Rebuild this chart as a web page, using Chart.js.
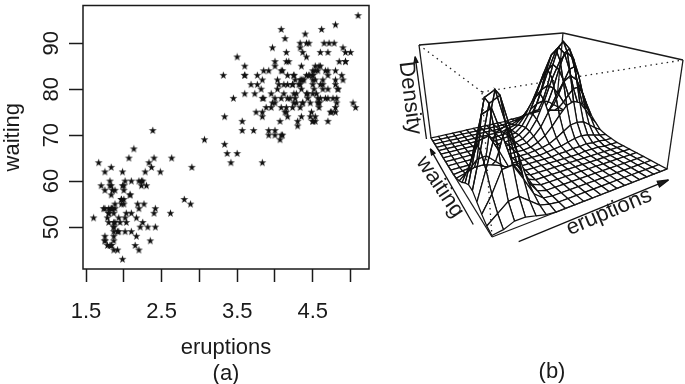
<!DOCTYPE html>
<html><head><meta charset="utf-8">
<style>html,body{margin:0;padding:0;background:#fff;width:685px;height:384px;overflow:hidden}
#wrapA{position:absolute;left:0;top:0;width:380px;height:384px}
#wrapB{position:absolute;left:380px;top:0;width:305px;height:384px}</style>
<script src="https://cdn.jsdelivr.net/npm/chart.js@4/dist/chart.umd.min.js"></script>
</head><body>
<div id="wrapA"><canvas id="a" width="380" height="384"></canvas></div>
<div id="wrapB"><canvas id="b" width="305" height="384"></canvas></div>
<script>
const eruptions=[3.6,1.8,3.333,2.283,4.533,2.883,4.7,3.6,1.95,4.35,1.833,3.917,4.2,1.75,4.7,2.167,1.75,4.8,1.6,4.25,1.8,1.75,3.45,3.067,4.533,3.6,1.967,4.083,3.85,4.433,4.3,4.467,3.367,4.033,3.833,2.017,1.867,4.833,1.833,4.783,4.35,1.883,4.567,1.75,4.533,3.317,3.833,2.1,4.633,2,4.8,4.716,1.833,4.833,1.733,4.883,3.717,1.667,4.567,4.317,2.233,4.5,1.75,4.8,1.817,4.4,4.167,4.7,2.067,4.7,4.033,1.967,4.5,4,1.983,5.067,2.017,4.567,3.883,3.6,4.133,4.333,4.1,2.633,4.067,4.933,3.95,4.517,2.167,4,2.2,4.333,1.867,4.817,1.833,4.3,4.667,3.75,1.867,4.9,2.483,4.367,2.1,4.5,4.05,1.867,4.7,1.783,4.85,3.683,4.733,2.3,4.9,4.417,1.7,4.633,2.317,4.6,1.817,4.417,2.617,4.067,4.25,1.967,4.6,3.767,1.917,4.5,2.267,4.65,1.867,4.167,2.8,4.333,1.833,4.383,1.883,4.933,2.033,3.733,4.233,2.233,4.533,4.817,4.333,1.983,4.633,2.017,5.1,1.8,5.033,4,2.4,4.6,3.567,4,4.5,4.083,1.8,3.967,2.2,4.15,2,3.833,3.5,4.583,2.367,5,1.933,4.617,1.917,2.083,4.583,3.333,4.167,4.333,4.5,2.417,4,4.167,1.883,4.583,4.25,3.767,2.033,4.433,4.083,1.833,4.417,2.183,4.8,1.833,4.8,4.1,3.966,4.233,3.5,4.366,2.25,4.667,2.1,4.35,4.133,1.867,4.6,1.783,4.367,3.85,1.933,4.5,2.383,4.7,1.867,3.833,3.417,4.233,2.4,4.8,2,4.15,1.867,4.267,1.75,4.483,4,4.117,4.083,4.267,3.917,4.55,4.083,2.417,4.183,2.217,4.45,1.883,1.85,4.283,3.95,2.333,4.15,2.35,4.933,2.9,4.583,3.833,2.083,4.367,2.133,4.35,2.2,4.45,3.567,4.5,4.15,3.817,3.917,4.45,2,4.283,4.767,4.533,1.85,4.25,1.983,2.25,4.75,4.117,2.15,4.417,1.817,4.467];
const waiting=[79,54,74,62,85,55,88,85,51,85,54,84,78,47,83,52,62,84,52,79,51,47,78,69,74,83,55,76,78,79,73,77,66,80,74,52,48,80,59,90,80,58,84,58,73,83,64,53,82,59,75,90,54,80,54,83,71,64,77,81,59,84,48,82,60,92,78,78,65,73,82,56,79,71,62,76,60,78,76,83,75,82,70,65,73,88,76,80,48,86,60,90,50,78,63,72,84,75,51,82,62,88,49,83,81,47,84,52,86,81,75,59,89,79,59,81,50,85,59,87,53,69,77,56,88,81,45,82,55,90,45,83,56,89,46,82,51,86,53,79,81,60,82,77,76,59,80,49,96,53,77,77,65,81,71,70,81,93,53,89,45,86,58,78,66,76,63,88,52,93,49,57,77,68,81,81,73,50,85,74,55,77,83,83,51,78,84,46,83,55,81,57,76,84,77,81,87,77,51,78,60,82,91,53,78,46,77,84,49,83,71,80,49,75,64,76,53,94,55,76,50,82,54,75,78,79,78,78,70,79,70,54,86,50,90,54,54,77,79,64,75,47,86,63,85,82,57,82,67,74,54,83,73,73,88,80,71,83,56,79,78,84,58,83,43,60,75,81,46,90,46,74];
const xTickLabels=['1.5','2.5','3.5','4.5'];
const yTickLabels=['50','60','70','80','90'];
// density surface, percent of the tallest peak; rows = waiting, columns = eruptions
const densityRows=[
[1,2,5,5,3,1,0,0,0,0,0,0,0,0,0,0,0,0,0,0,0],
[2,8,14,15,9,3,1,0,0,0,0,0,0,0,0,0,0,0,0,0,0],
[5,17,33,34,21,7,1,0,0,0,0,0,0,0,0,0,0,0,0,0,0],
[9,31,57,61,37,12,2,0,0,0,0,0,0,0,0,0,0,0,0,0,0],
[13,42,77,82,49,17,3,0,0,0,0,0,0,0,0,0,0,0,0,0,0],
[13,43,79,84,51,17,3,0,0,0,0,0,0,0,0,0,0,0,0,0,0],
[10,33,62,66,40,14,3,0,0,0,0,0,0,0,0,0,0,0,0,0,0],
[6,20,37,39,24,8,2,0,0,0,0,0,0,0,0,1,1,1,0,0,0],
[3,9,17,18,11,4,1,0,0,0,0,0,1,1,2,2,3,2,2,1,1],
[1,3,6,6,4,1,0,0,0,0,0,1,2,3,5,7,8,7,5,3,2],
[0,1,2,2,1,0,0,0,0,0,1,2,4,8,13,18,19,18,13,8,4],
[0,0,0,0,0,0,0,0,0,0,1,4,9,17,27,36,39,36,27,17,9],
[0,0,0,0,0,0,0,0,0,1,2,7,15,29,45,59,65,59,45,29,15],
[0,0,0,0,0,0,0,0,0,1,3,9,20,39,62,81,89,81,62,39,20],
[0,0,0,0,0,0,0,0,0,1,4,10,23,44,69,91,100,91,69,44,23],
[0,0,0,0,0,0,0,0,0,1,3,9,21,40,64,84,92,84,64,40,21],
[0,0,0,0,0,0,0,0,0,1,3,7,16,30,48,63,70,63,48,30,16],
[0,0,0,0,0,0,0,0,0,0,2,4,10,19,30,39,43,39,30,19,10],
[0,0,0,0,0,0,0,0,0,0,1,2,5,10,15,20,22,20,15,10,5],
[0,0,0,0,0,0,0,0,0,0,0,1,2,4,6,8,9,8,6,4,2],
[0,0,0,0,0,0,0,0,0,0,0,0,1,1,2,3,3,3,2,1,1]];

const FONT='"Liberation Sans", Arial, sans-serif', INK='#1a1a1a';

// left panel
const star=document.createElement('canvas');star.width=star.height=9;
(function(){const c=star.getContext('2d');c.fillStyle='#111';c.beginPath();
for(let k=0;k<10;k++){const r=k%2?1.6:4.1,t=-Math.PI/2+k*Math.PI/5,x=4.5+r*Math.cos(t),y=4.6+r*Math.sin(t);k?c.lineTo(x,y):c.moveTo(x,y);}
c.closePath();c.fill();})();
const boxPlugin={id:'box',afterDraw(ch){const a=ch.chartArea,c=ch.ctx;c.save();c.strokeStyle=INK;c.lineWidth=1.5;
c.strokeRect(a.left,a.top,a.right-a.left,a.bottom-a.top);c.restore();}};
new Chart(document.getElementById('a'),{type:'scatter',
data:{datasets:[{data:eruptions.map((e,i)=>({x:e,y:waiting[i]})),pointStyle:star,pointRadius:4.5,pointHoverRadius:4.5}]},
plugins:[boxPlugin],
options:{responsive:false,animation:false,events:[],
layout:{padding:{left:0,top:1,right:11,bottom:0}},
plugins:{legend:{display:false},tooltip:{enabled:false}},
scales:{
x:{type:'linear',min:1.46,max:5.244,afterFit(s){s.height=115;s.paddingLeft=0;s.paddingRight=0;},
 border:{display:false},
 grid:{drawOnChartArea:false,tickLength:13,tickColor:INK,tickWidth:1.5},
 ticks:{stepSize:.5,includeBounds:false,autoSkip:false,maxRotation:0,padding:17,color:INK,font:{family:FONT,size:22},
  callback:v=>{const s=v.toFixed(1);return xTickLabels.includes(s)?s:'';}},
 title:{display:true,text:['eruptions','(a)'],color:INK,font:{family:FONT,size:22,lineHeight:1.18},padding:{top:0,bottom:-3}}},
y:{type:'linear',min:40.88,max:98.2,afterFit(s){s.width=83;s.paddingTop=0;s.paddingBottom=0;},
 border:{display:false},
 grid:{drawOnChartArea:false,tickLength:14,tickColor:INK,tickWidth:1.5},
 ticks:{stepSize:10,includeBounds:false,autoSkip:false,minRotation:90,maxRotation:90,crossAlign:'center',padding:5,color:INK,font:{family:FONT,size:22},
  callback:v=>{const s=String(v);return yTickLabels.includes(s)?s:'';}},
 title:{display:true,text:'waiting',color:INK,font:{family:FONT,size:22},padding:0}}
}}});

// right panel: perspective box
function homography(p00,p10,p01,p11){
 const dx1=p10[0]-p11[0],dx2=p01[0]-p11[0],sx=p00[0]-p10[0]+p11[0]-p01[0];
 const dy1=p10[1]-p11[1],dy2=p01[1]-p11[1],sy=p00[1]-p10[1]+p11[1]-p01[1];
 const den=dx1*dy2-dx2*dy1,g=(sx*dy2-dx2*sy)/den,h=(dx1*sy-sx*dy1)/den;
 const a=p10[0]-p00[0]+g*p10[0],b=p01[0]-p00[0]+h*p01[0],d=p10[1]-p00[1]+g*p10[1],e=p01[1]-p00[1]+h*p01[1];
 return (u,v)=>{const w=g*u+h*v+1;return[(a*u+b*v+p00[0])/w,(d*u+e*v+p00[1])/w];};
}
const baseH=homography([492,237],[667,169],[431,138],[556,110]);
const topH=homography([482,92],[683,60],[419,45],[563,33]);
function project(u,v,z){const b=baseH(u,v),t=topH(u,v);return{x:b[0]+(t[0]-b[0])*z,y:b[1]+(t[1]-b[1])*z};}
function line(pts,o){return Object.assign({data:pts,showLine:true,pointRadius:0,borderColor:'#111',borderWidth:1.25,tension:0,fill:false},o||{});}
const painted=[]; // back to front
const solid={borderColor:INK,borderWidth:1.3};
const box=(a,b,o)=>line([project(...a),project(...b)],o);
painted.push(box([1,1,0],[1,1,1],solid),box([1,1,1],[0,1,1],solid),box([1,1,1],[1,0,1],solid),
 box([0,1,0],[0,1,1],solid),box([1,0,0],[1,0,1],solid));
const N=densityRows.length-1, FILL_LIMIT=42;
for(let j=N-1;j>=0;j--)for(let i=N-1;i>=0;i--){
 const c=[[i,j],[i+1,j],[i+1,j+1],[i,j+1],[i,j]];
 const zs=c.map(q=>densityRows[q[1]][q[0]]);
 const pts=c.map(q=>project(q[0]/N,q[1]/N,densityRows[q[1]][q[0]]/100));
 painted.push(line(pts,Math.max(...zs)<FILL_LIMIT?{fill:'shape',backgroundColor:'#fff'}:{}));
}
painted.push(box([0,1,0],[0,0,0],solid),box([0,0,0],[1,0,0],solid));
const dots={borderDash:[1.5,4],borderWidth:1.3,borderColor:'#222'};
painted.push(box([0,0,0],[0,0,1],dots),box([0,0,1],[0,1,1],dots),box([0,0,1],[1,0,1],dots));
function arrow(a,b,hl,hw){const A=project(...a),B=project(...b);
 const L=Math.hypot(B.x-A.x,B.y-A.y),ux=(B.x-A.x)/L,uy=(B.y-A.y)/L;
 painted.push(line([A,B],{borderWidth:1.3}));
 painted.push(line([B,{x:B.x-ux*hl-uy*hw,y:B.y-uy*hl+ux*hw},{x:B.x-ux*hl+uy*hw,y:B.y-uy*hl-ux*hw},B],{fill:'shape',backgroundColor:INK}));}
arrow([.08,-.07,0],[.92,-.07,0],11,3);
arrow([-.04,.1,0],[-.04,.85,0],6,2);
arrow([-.03,1,0],[-.03,1,.88],6,2);

const labelPlugin={id:'labels',afterDatasetsDraw(ch){const c=ch.ctx,sx=ch.scales.x,sy=ch.scales.y;
 const put=(t,x,y,deg)=>{c.save();c.translate(sx.getPixelForValue(x),sy.getPixelForValue(y));c.rotate(deg*Math.PI/180);
  c.font='22px '+FONT;c.fillStyle=INK;c.textAlign='center';c.textBaseline='middle';c.fillText(t,0,0);c.restore();};
 put('Density',410,98,83);put('waiting',440,187,56);put('eruptions',609,212,-23);put('(b)',552,372,0);}};
new Chart(document.getElementById('b'),{type:'scatter',
data:{datasets:painted.reverse()},plugins:[labelPlugin],
options:{responsive:false,animation:false,events:[],layout:{padding:0},
plugins:{legend:{display:false},tooltip:{enabled:false}},
scales:{x:{type:'linear',min:380,max:685,display:false},y:{type:'linear',min:0,max:384,reverse:true,display:false}}}});
</script>
</body></html>
